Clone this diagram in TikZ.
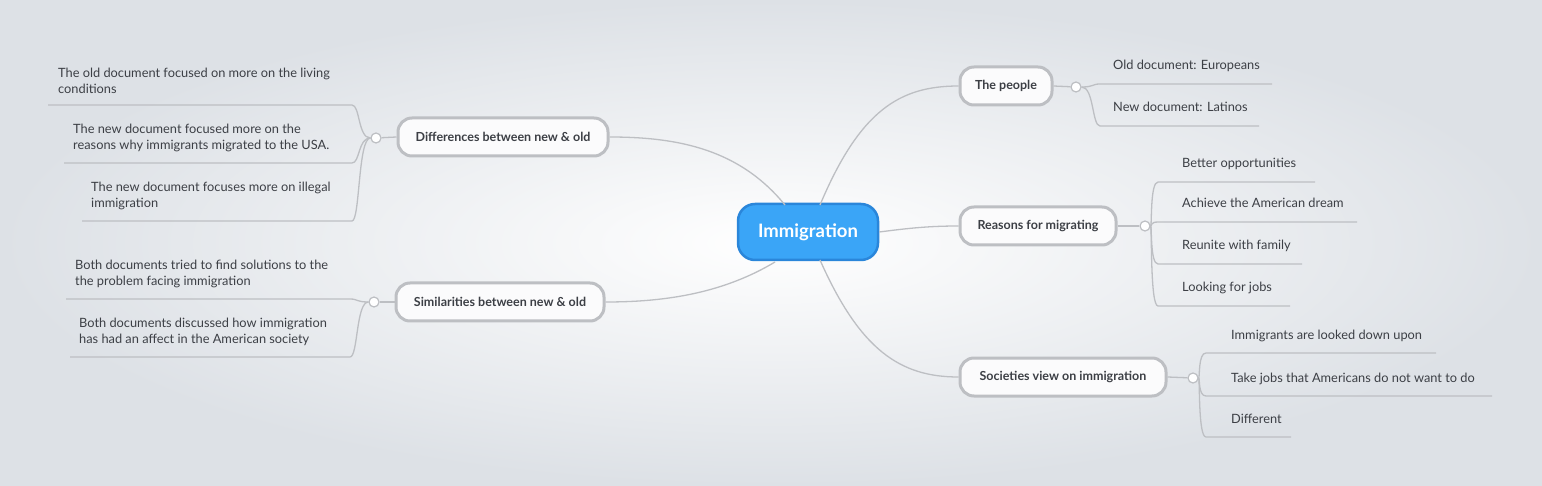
\documentclass[tikz,border=0pt]{standalone}
\usepackage{fontspec}
\setmainfont{Lato}
\definecolor{bgc}{HTML}{DDE1E6}
\definecolor{lnc}{HTML}{BDBFC3}
\definecolor{txt}{HTML}{3C3F45}
\definecolor{cfill}{HTML}{3AA5F7}
\definecolor{cdraw}{HTML}{2A86DA}
\begin{document}
\begin{tikzpicture}[x=1pt,y=-1pt,
  line/.style={draw=lnc,line width=1.3pt},
  central/.style={rounded corners=17pt,fill=cfill,draw=cdraw,line width=2.5pt,text=white,font=\fontsize{18.5}{20}\selectfont\bfseries,minimum width=140pt,minimum height=56pt},
  branch/.style={rounded corners=14pt,fill=white!60!bgc!30!white,draw=lnc,line width=3pt,text=txt,font=\fontsize{12.5}{15}\selectfont\bfseries,minimum height=38pt,inner xsep=11pt},
  knob/.style={circle,draw=lnc,fill=white,line width=1.2pt,minimum size=10pt,inner sep=0pt},
  leaf/.style={text=txt,font=\fontsize{12.8}{16}\selectfont,inner sep=0pt,align=left}]
\shade[inner color=white,outer color=bgc] (0,0) rectangle (1542,486);
\useasboundingbox (0,0) rectangle (1542,486);
\node[central] (c) at (808,232) {Immigration};
\node[branch,minimum width=92pt] (p) at (1006,86) {The people};
\node[branch,minimum width=156pt] (r) at (1038,226) {Reasons for migrating};
\node[branch,minimum width=206pt] (s) at (1063,377) {Societies view on immigration};
\node[branch,minimum width=210pt] (d) at (503,137) {Differences between new \& old};
\node[branch,minimum width=208pt] (m) at (500,302) {Similarities between new \& old};
% central connectors
\draw[line] (820,205) .. controls (860,110) and (900,86) .. (p.west);
\draw[line] (c.east) .. controls (910,228) and (930,226) .. (r.west);
\draw[line] (820,260) .. controls (860,350) and (900,377) .. (s.west);
\draw[line] (785,205) .. controls (740,150) and (680,137) .. (d.east);
\draw[line] (775,262) .. controls (720,295) and (660,302) .. (m.east);
% knobs
\node[knob] (pk) at (1076,87) {};
\node[knob] (rk) at (1145,226) {};
\node[knob] (sk) at (1193,378) {};
\node[knob] (dk) at (376,138) {};
\node[knob] (mk) at (374,302) {};
\draw[line] (p.east) -- (pk); \draw[line] (r.east) -- (rk); \draw[line] (s.east) -- (sk);
\draw[line] (d.west) -- (dk); \draw[line] (m.west) -- (mk);
% right leaves
\foreach \k/\ky/\lx/\tx/\ly/\ex/\t/\n in {
 pk/87/1100/1113/84/1272/Old document: Europeans/p1,
 pk/87/1100/1113/126/1259/New document: Latinos/p2,
 rk/226/1158/1182/182/1315/Better opportunities/r1,
 rk/226/1158/1182/222/1357/Achieve the American dream/r2,
 rk/226/1158/1182/264/1302/Reunite with family/r3,
 rk/226/1158/1182/306/1290/Looking for jobs/r4,
 sk/378/1206/1231/353/1436/Immigrants are looked down upon/s1,
 sk/378/1206/1231/396/1492/Take jobs that Americans do not want to do/s2,
 sk/378/1206/1231/437/1291/Different/s3}{
  \node[leaf,anchor=base west] (\n) at (\tx,\ly-14) {\t};
  \coordinate (\n a) at (\lx,\ly); \coordinate (\n b) at (\ex,\ly);
  \draw[line] (\k) .. controls (\lx-6,\ky) and (\lx-8,\ly) .. (\n a) -- (\n b);
}
% left leaves
\foreach \k/\ky/\lx/\ly/\sx/\tx/\t/\n in {
 dk/138/352/105/48/58/{The old document focused on more on the living\\conditions}/d1,
 dk/138/352/163/64/73/{The new document focused more on the\\reasons why immigrants migrated to the USA.}/d2,
 dk/138/352/221/82/91/{The new document focuses more on illegal\\immigration}/d3,
 mk/302/350/299/66/75/{Both documents tried to find solutions to the\\the problem facing immigration}/m1,
 mk/302/350/357/70/79/{Both documents discussed how immigration\\has had an affect in the American society}/m2}{
  \node[leaf,anchor=south west] (\n) at (\tx,\ly-11) {\t};
  \coordinate (\n a) at (\lx,\ly); \coordinate (\n b) at (\sx,\ly);
  \draw[line] (\k) .. controls (\lx+6,\ky) and (\lx+8,\ly) .. (\n a) -- (\n b);
}
\end{tikzpicture}
\end{document}
